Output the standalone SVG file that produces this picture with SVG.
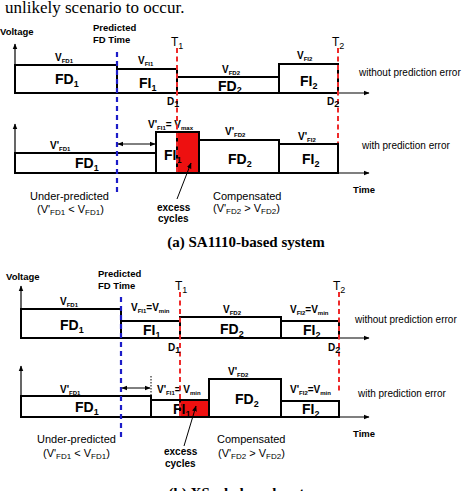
<svg xmlns="http://www.w3.org/2000/svg" width="474" height="491" viewBox="0 0 474 491">
<defs>
<marker id="ah" viewBox="0 0 10 10" refX="9" refY="5" markerWidth="6" markerHeight="6" orient="auto-start-reverse" markerUnits="userSpaceOnUse">
<path d="M0,1 L10,5 L0,9 Z" fill="#000"/>
</marker>
<style>
.box{fill:#fff;stroke:#000;stroke-width:2}
.axis{fill:none;stroke:#000;stroke-width:1.2}
.thin{fill:none;stroke:#000;stroke-width:1}
.blue{fill:none;stroke:#1c1cc8;stroke-width:2.2;stroke-dasharray:5 4}
.red{fill:none;stroke:#ee2a2a;stroke-width:2;stroke-dasharray:5 3.5}
.exc{fill:#ee1010;stroke:#000;stroke-width:2}
.dot{fill:none;stroke:#000;stroke-width:1;stroke-dasharray:1.5 1.5}
text{font-family:"Liberation Sans",Arial,sans-serif;fill:#000}
.big{font-size:14px;font-weight:bold}
.v{font-size:10px;font-weight:bold}
.sb{font-size:6px}
.s9{font-size:9px}
.lab{font-size:10px}
.bl{font-size:9.5px;font-weight:bold}
.t{font-size:12px}
.cap{font-family:"Liberation Serif","Times New Roman",serif;font-size:15px;font-weight:bold}
</style>
</defs>
<text x="5" y="13" style="font-family:'Liberation Serif','Times New Roman',serif;font-size:17px">unlikely scenario to occur.</text>

<!-- ===== (a) top ===== -->
<g id="a-axes">
<text x="0" y="35" class="bl">Voltage</text>
<line x1="15" y1="93" x2="15" y2="44" class="axis" marker-end="url(#ah)"/>
<line x1="15" y1="93" x2="369" y2="93" class="axis" marker-end="url(#ah)"/>
<text x="93" y="31" class="bl">Predicted</text>
<text x="93" y="43" class="bl">FD Time</text>
<text x="359" y="76" class="lab">without prediction error</text>
</g>
<g id="a-fd1"><rect x="15" y="65" width="102" height="28" class="box"/>
<text x="55" y="61" class="v">V<tspan class="sb" dy="2">FD1</tspan></text>
<text x="55" y="84" class="big">FD<tspan class="s9" dy="3">1</tspan></text></g>
<g id="a-fi1"><rect x="117" y="69" width="60" height="24" class="box"/>
<text x="138" y="64" class="v">V<tspan class="sb" dy="2">FI1</tspan></text>
<text x="139" y="88" class="big">FI<tspan class="s9" dy="3">1</tspan></text></g>
<g id="a-fd2"><rect x="177" y="77" width="102" height="16" class="box"/>
<text x="222" y="73" class="v">V<tspan class="sb" dy="2">FD2</tspan></text>
<text x="218" y="91" class="big">FD<tspan class="s9" dy="2">2</tspan></text></g>
<g id="a-fi2"><rect x="279" y="64" width="59" height="29" class="box"/>
<text x="297" y="59" class="v">V<tspan class="sb" dy="2">FI2</tspan></text>
<text x="300" y="86" class="big">FI<tspan class="s9" dy="3">2</tspan></text></g>

<!-- ===== (a) bottom ===== -->
<g id="a2-axes">
<line x1="15" y1="173" x2="15" y2="124" class="axis" marker-end="url(#ah)"/>
<line x1="15" y1="173" x2="369" y2="173" class="axis" marker-end="url(#ah)"/>
<text x="362" y="149" class="lab">with prediction error</text>
<text x="353" y="193" class="bl">Time</text>
</g>
<g id="a2-fd1"><rect x="15" y="153" width="141" height="20" class="box"/>
<text x="50" y="149" class="v">V'<tspan class="sb" dy="2">FD1</tspan></text>
<text x="75" y="168" class="big">FD<tspan class="s9" dy="3">1</tspan></text></g>
<g id="a2-fi1"><rect x="156" y="132" width="43" height="41" class="box"/>
<rect x="177" y="132" width="22" height="41" class="exc"/>
<text x="148" y="128" class="v">V'<tspan class="sb" dy="2">FI1</tspan><tspan dy="-2">= V</tspan><tspan class="sb" dy="2">max</tspan></text>
<text x="164" y="160" class="big">FI<tspan class="s9" dy="3">1</tspan></text></g>
<g id="a2-fd2"><rect x="199" y="140" width="80" height="33" class="box"/>
<text x="225" y="135" class="v">V'<tspan class="sb" dy="2">FD2</tspan></text>
<text x="228" y="164" class="big">FD<tspan class="s9" dy="3">2</tspan></text></g>
<g id="a2-fi2"><rect x="279" y="144" width="59" height="29" class="box"/>
<text x="298" y="140" class="v">V'<tspan class="sb" dy="2">FI2</tspan></text>
<text x="302" y="164" class="big">FI<tspan class="s9" dy="3">2</tspan></text></g>
<g id="a2-notes">
<text x="30" y="200" style="font-size:11px">Under-predicted</text>
<text x="37" y="213" style="font-size:11px">(V'<tspan style="font-size:8px" dy="2">FD1</tspan><tspan dy="-2"> &lt; V</tspan><tspan style="font-size:8px" dy="2">FD1</tspan><tspan dy="-2">)</tspan></text>
<text x="157" y="211" class="bl" style="font-size:10px">excess</text>
<text x="158" y="222" class="bl" style="font-size:10px">cycles</text>
<text x="213" y="200" style="font-size:11px">Compensated</text>
<text x="213" y="212" style="font-size:11px">(V'<tspan style="font-size:8px" dy="2">FD2</tspan><tspan dy="-2"> &gt; V</tspan><tspan style="font-size:8px" dy="2">FD2</tspan><tspan dy="-2">)</tspan></text>
</g>
<text x="246" y="247" text-anchor="middle" class="cap">(a) SA1110-based system</text>

<!-- ===== (b) top ===== -->
<g id="b-axes">
<text x="6" y="280" class="bl">Voltage</text>
<line x1="21" y1="338" x2="21" y2="286" class="axis" marker-end="url(#ah)"/>
<line x1="21" y1="338" x2="369" y2="338" class="axis" marker-end="url(#ah)"/>
<text x="98" y="277" class="bl">Predicted</text>
<text x="98" y="289" class="bl">FD Time</text>
<text x="355" y="323" class="lab">without prediction error</text>
</g>
<g id="b-fd1"><rect x="21" y="309" width="100" height="29" class="box"/>
<text x="60" y="305" class="v">V<tspan class="sb" dy="2">FD1</tspan></text>
<text x="60" y="330" class="big">FD<tspan class="s9" dy="3">1</tspan></text></g>
<g id="b-fi1"><rect x="121" y="321" width="59" height="17" class="box"/>
<text x="131" y="311" class="v">V<tspan class="sb" dy="2">FI1</tspan><tspan dy="-2">=V</tspan><tspan class="sb" dy="2">min</tspan></text>
<text x="143" y="335" class="big">FI<tspan class="s9" dy="3">1</tspan></text></g>
<g id="b-fd2"><rect x="180" y="317" width="101" height="21" class="box"/>
<text x="223" y="313" class="v">V<tspan class="sb" dy="2">FD2</tspan></text>
<text x="220" y="334" class="big">FD<tspan class="s9" dy="3">2</tspan></text></g>
<g id="b-fi2"><rect x="281" y="321" width="58" height="17" class="box"/>
<text x="290" y="313" class="v">V<tspan class="sb" dy="2">FI2</tspan><tspan dy="-2">=V</tspan><tspan class="sb" dy="2">min</tspan></text>
<text x="303" y="335" class="big">FI<tspan class="s9" dy="3">2</tspan></text></g>

<!-- ===== (b) bottom ===== -->
<g id="b2-axes">
<line x1="21" y1="417" x2="21" y2="366" class="axis" marker-end="url(#ah)"/>
<line x1="21" y1="417" x2="369" y2="417" class="axis" marker-end="url(#ah)"/>
<text x="358" y="397" class="lab">with prediction error</text>
<text x="353" y="437" class="bl">Time</text>
</g>
<g id="b2-fd1"><rect x="21" y="396" width="130" height="21" class="box"/>
<text x="60" y="393" class="v">V'<tspan class="sb" dy="2">FD1</tspan></text>
<text x="75" y="412" class="big">FD<tspan class="s9" dy="3">1</tspan></text></g>
<g id="b2-fi1"><rect x="151" y="400" width="58" height="17" class="box"/>
<rect x="180" y="400" width="29" height="17" class="exc"/>
<text x="157" y="393" class="v">V'<tspan class="sb" dy="2">FI1</tspan><tspan dy="-2">= V</tspan><tspan class="sb" dy="2">min</tspan></text>
<text x="173" y="414" class="big">FI<tspan class="s9" dy="3">1</tspan></text></g>
<g id="b2-fd2"><rect x="209" y="379" width="72" height="38" class="box"/>
<text x="228" y="375" class="v">V'<tspan class="sb" dy="2">FD2</tspan></text>
<text x="235" y="404" class="big">FD<tspan class="s9" dy="3">2</tspan></text></g>
<g id="b2-fi2"><rect x="281" y="401" width="58" height="16" class="box"/>
<text x="290" y="393" class="v">V'<tspan class="sb" dy="2">FI2</tspan><tspan dy="-2">=V</tspan><tspan class="sb" dy="2">min</tspan></text>
<text x="302" y="414" class="big">FI<tspan class="s9" dy="3">2</tspan></text></g>
<g id="b2-notes">
<text x="37" y="443" style="font-size:11px">Under-predicted</text>
<text x="43" y="457" style="font-size:11px">(V'<tspan style="font-size:8px" dy="2">FD1</tspan><tspan dy="-2"> &lt; V</tspan><tspan style="font-size:8px" dy="2">FD1</tspan><tspan dy="-2">)</tspan></text>
<text x="164" y="455" class="bl" style="font-size:10px">excess</text>
<text x="165" y="467" class="bl" style="font-size:10px">cycles</text>
<text x="217" y="443" style="font-size:11px">Compensated</text>
<text x="218" y="457" style="font-size:11px">(V'<tspan style="font-size:8px" dy="2">FD2</tspan><tspan dy="-2"> &gt; V</tspan><tspan style="font-size:8px" dy="2">FD2</tspan><tspan dy="-2">)</tspan></text>
</g>
<text x="246" y="498" text-anchor="middle" class="cap">(b) XScale-based system</text>

<!-- ===== connectors / markers ===== -->
<g id="connectors">
<line x1="117" y1="52" x2="117" y2="195" class="blue"/>
<line x1="177" y1="48" x2="177" y2="173" class="red"/>
<line x1="338" y1="48" x2="338" y2="143" class="red"/>
<line x1="118" y1="144" x2="155" y2="144" class="thin" marker-start="url(#ah)" marker-end="url(#ah)"/>
<line x1="177" y1="199" x2="191" y2="163" class="thin" marker-end="url(#ah)"/>

<line x1="121" y1="297" x2="121" y2="438" class="blue"/>
<line x1="180" y1="292" x2="180" y2="417" class="red"/>
<line x1="339" y1="292" x2="339" y2="394" class="red"/>
<line x1="151" y1="376" x2="151" y2="396" class="dot"/>
<line x1="122" y1="388" x2="150" y2="388" class="thin" marker-start="url(#ah)" marker-end="url(#ah)"/>
<line x1="184" y1="446" x2="196" y2="406" class="thin" marker-end="url(#ah)"/>
</g>
<g id="labels-T-D">
<text x="171" y="46" class="t">T<tspan class="s9" dy="3">1</tspan></text>
<text x="332" y="46" class="t">T<tspan class="s9" dy="3">2</tspan></text>
<text x="167" y="105" class="v">D<tspan class="s9" dy="2">1</tspan></text>
<text x="327" y="105" class="v">D<tspan class="s9" dy="2">2</tspan></text>
<text x="175" y="290" class="t">T<tspan class="s9" dy="3">1</tspan></text>
<text x="333" y="290" class="t">T<tspan class="s9" dy="3">2</tspan></text>
<text x="168" y="351" class="v">D<tspan class="s9" dy="2">1</tspan></text>
<text x="328" y="351" class="v">D<tspan class="s9" dy="2">2</tspan></text>
</g>
</svg>
